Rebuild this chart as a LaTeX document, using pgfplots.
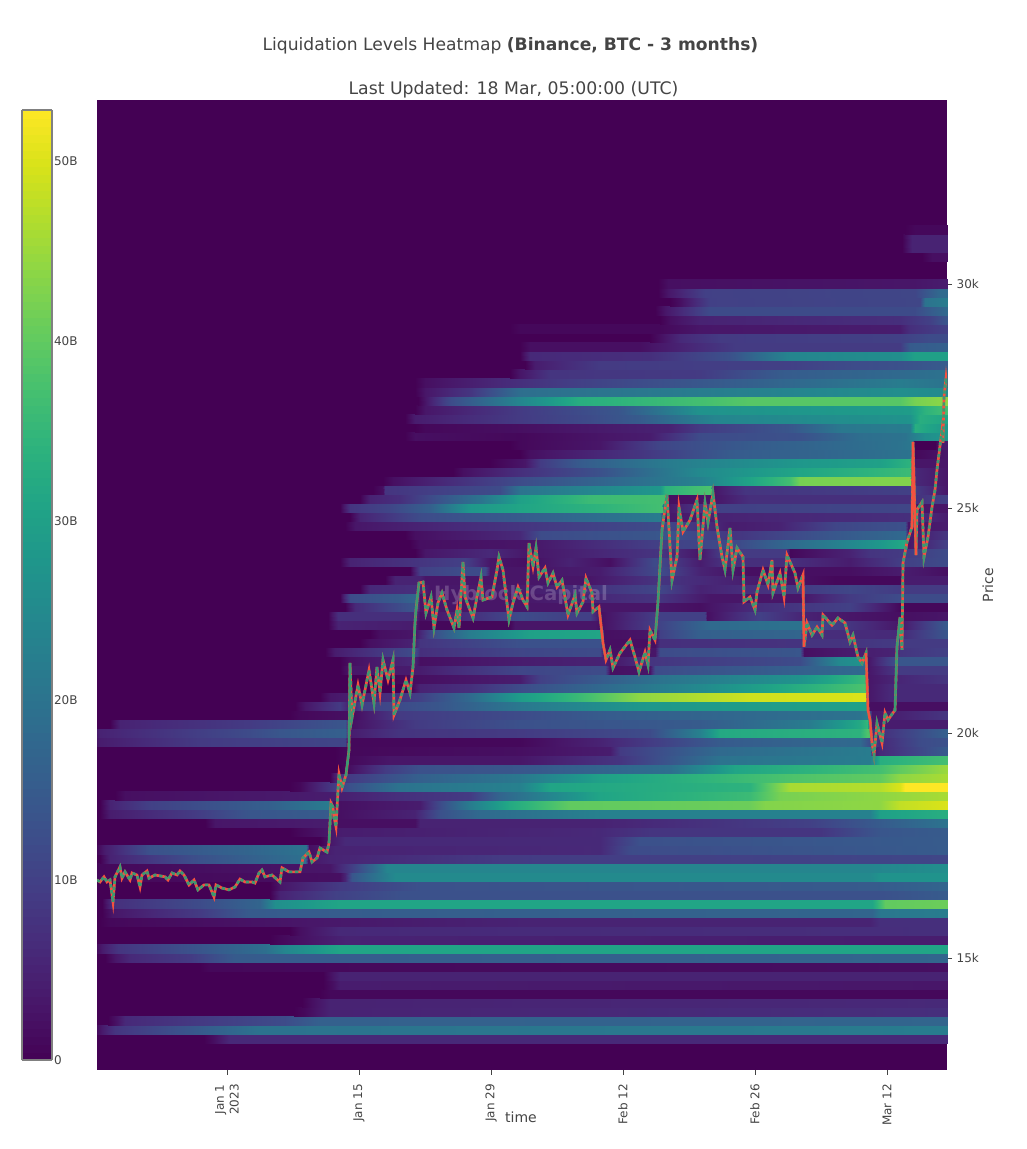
\documentclass[border=0pt]{standalone}
\usepackage{fontspec}
\setmainfont{DejaVu Sans}
\usepackage{pgfplots}
\usepackage{pgfplotstable}
\pgfplotsset{compat=1.18}
\definecolor{txt}{HTML}{444444}
\definecolor{up}{HTML}{3D9970}
\definecolor{down}{HTML}{F4523F}
\def\px{0.75pt}

% one price band of the heatmap: lower edge, then position/value knots (value in billions)
\newcommand{\band}[2]{%
  \gdef\bandcoords{}%
  \foreach \x/\z in {#2}{%
    \ifx\bandcoords\empty
      \pgfmathsetmacro\xa{\x-10}%
      \xdef\bandcoords{(\xa,#1)[0] (\xa,\the\numexpr#1+200\relax)[0]}%
    \fi
    \xdef\bandcoords{\bandcoords (\x,#1)[\z] (\x,\the\numexpr#1+200\relax)[\z]}}%
  \edef\doband{\noexpand\addplot[surf,shader=interp,mesh/rows=2,mesh/ordering=y varies,point meta=explicit,forget plot] coordinates {\bandcoords};}%
  \doband}

% candles, x is the position along the time axis
\pgfplotstableread{
x p
97 16730
100 16685
104 16800
107 16685
110 16730
113 16240
115 16800
120 17020
122 16770
125 16910
130 16730
132 16885
137 16840
140 16575
142 16840
147 16930
149 16770
155 16840
165 16800
168 16730
172 16885
177 16840
180 16930
184 16840
189 16620
194 16730
198 16510
204 16620
209 16620
212 16460
214 16350
216 16620
222 16550
229 16510
235 16575
240 16750
245 16685
252 16685
255 16660
259 16885
262 16950
265 16800
272 16840
280 16685
282 17000
289 16910
300 16910
303 17220
309 17350
312 17130
317 17220
320 17440
327 17350
329 17550
331 18440
333 18350
334 18130
336 17910
338 18730
339 19090
342 18780
346 19070
349 19620
350 21560
352 20340
358 21070
362 20625
369 21400
374 20670
377 21470
380 20890
383 21630
388 21180
393 21630
394 20400
400 20740
406 21180
410 20890
413 21470
415 22450
416 22740
419 23340
423 23360
426 22670
431 23030
434 22340
438 22900
442 23120
447 22740
454 22340
457 22740
459 22340
463 23810
465 23030
473 22560
477 23030
481 23470
483 22960
492 23030
497 23630
499 23920
503 23630
509 22520
513 22900
518 23250
523 22960
527 22810
529 24230
533 23700
536 24120
539 23470
545 23675
548 23340
553 23560
557 23250
562 23400
568 22630
575 23070
577 22670
583 22920
586 23450
592 23120
593 22700
599 22810
603 22000
606 21630
610 21850
613 21450
620 21780
630 22070
635 21690
639 21360
645 21800
648 21515
650 22290
655 22070
658 22920
662 24520
667 25300
672 23400
677 23920
679 25030
683 24480
690 24740
697 25190
700 23850
705 25120
708 24680
713 25340
717 24590
722 23920
725 23630
730 24565
733 23630
737 24120
743 23920
744 22920
750 23030
755 22740
757 23140
763 23630
768 23300
772 23850
773 23120
780 23560
784 23030
787 23960
795 23560
798 23230
803 23520
804 21920
807 22450
812 22180
817 22360
822 22180
823 22630
832 22400
838 22560
845 22450
850 22030
853 22180
858 21690
862 21560
866 21780
868 20510
870 20290
872 19780
874 19510
877 20220
882 19780
885 20450
888 20290
893 20450
895 20510
897 21920
900 22580
902 21850
903 23790
907 24250
912 24590
913 26480
916 23960
917 24970
922 25140
924 23920
928 24365
932 25030
935 25410
937 25860
942 26750
943 26460
944 27480
946 27900
947 27700
}\candles

\begin{document}
\begin{tikzpicture}
\useasboundingbox (0,0) rectangle (1027*\px,1149*\px);
\begin{axis}[
    at={(97*\px,79*\px)}, anchor=south west,
    scale only axis, width=850*\px, height=970*\px,
    xmin=97, xmax=947, ymin=12500, ymax=34090,
    scaled ticks=false,
    axis background/.style={fill={rgb,255:red,68;green,1;blue,84}},
    colormap/viridis, point meta min=0, point meta max=52.84,
    xtick={227,359,491,623,755,887},
    xticklabels={{Jan 1\\2023},Jan 15,Jan 29,Feb 12,Feb 26,Mar 12},
    xticklabel style={rotate=90,anchor=east,align=center,xshift=-4.5*\px,font=\fontsize{9}{11}\selectfont,text=txt},
    ytick={15000,20000,25000,30000},
    yticklabels={15k,20k,25k,30k},
    yticklabel pos=right,
    yticklabel style={font=\fontsize{9}{11}\selectfont,text=txt},
    xtick pos=bottom, ytick pos=right,
    tick align=outside, major tick length=5*\px,
    tick style={draw=txt},
    axis line style={draw=none},
    xlabel={time}, ylabel={Price},
    xlabel style={at={(0.4988,-0.0485)},anchor=center,font=\fontsize{10.5}{12}\selectfont,text=txt},
    ylabel style={at={(1.048,0.5)},anchor=center,rotate=0,font=\fontsize{10.5}{12}\selectfont,text=txt},
    colorbar sampled,
    colorbar style={
      samples=120,
      at={(-0.0882,0.0103)}, anchor=south west,
      width=30*\px, height=950*\px,
      ytick={0,10,20,30,40,50},
      yticklabels={0,10B,20B,30B,40B,50B},
      yticklabel pos=right,
      yticklabel style={font=\fontsize{9}{11}\selectfont,text=txt,xshift=-2pt},
      major tick length=0pt,
      axis line style={draw=gray,line width=1.5pt},
    },
  ]
\band{13100}{214/2,230/6,947/6}
\band{13300}{103/4,115/8,190/14,260/20,947/22}
\band{13500}{118/3,125/6,285/12,320/16,947/17}
\band{13700}{304/1,330/5,947/7}
\band{13900}{312/2,330/5,947/6}
\band{14100}{330/1,947/1}
\band{14300}{333/2,340/4,947/3}
\band{14500}{333/3,340/5,947/5}
\band{14700}{210/1,947/2}
\band{14900}{115/3,130/6,190/9,235/15,947/17}
\band{15100}{103/4,118/8,190/13,265/19,285/24,340/31,947/31}
\band{15300}{280/1,345/5,947/4}
\band{15500}{300/2,340/6,947/7}
\band{15700}{110/1,300/3,520/5,870/5,880/7,947/7}
\band{15900}{112/3,200/9,250/15,520/16,872/17,880/21,947/22}
\band{16100}{112/7,200/12,260/17,275/26,340/31,872/31,885/40,947/41}
\band{16300}{280/5,335/10,400/13,880/13,947/15}
\band{16500}{280/3,340/9,420/13,880/15,947/17}
\band{16700}{97/1,340/2,345/5,352/14,395/25,870/25,880/27,947/27}
\band{16900}{100/1,330/3,350/9,375/18,387/24,870/24,947/26}
\band{17100}{110/5,200/13,300/19,305/19,308/3,330/5,500/9,947/11}
\band{17300}{105/4,150/13,250/17,306/20,309/2,335/5,600/6,630/12,947/15}
\band{17500}{330/3,345/6,600/6,640/13,947/15}
\band{17700}{300/1,340/4,600/6,650/8,820/8,880/14,947/15}
\band{17900}{215/3,330/4,338/2,415/2,420/5,600/5,810/10,880/15,947/20}
\band{18100}{110/4,195/9,250/14,332/15,336/2,415/5,440/13,480/18,600/23,870/23,880/30,947/33}
\band{18300}{110/5,150/10,270/16,330/22,333/2,420/4,440/12,470/22,510/32,570/40,750/41,765/43,880/44,900/48,947/50}
\band{18500}{125/2,330/4,400/7,470/9,500/17,600/31,750/36,780/42,880/44,947/46}
\band{18700}{300/1,350/13,400/20,520/23,550/31,750/34,790/46,880/47,900/50,905/52.8,947/52.8}
\band{18900}{340/8,420/16,520/21,600/30,790/38,880/40,900/44,947/46}
\band{19100}{350/2,385/9,420/13,520/14,670/19,735/31,880/37,900/40,947/45}
\band{19300}{345/1,390/3,520/3,620/8,720/20,870/22,880/33,947/37}
\band{19500}{345/1,520/2,610/4,620/9,720/18,870/22,872/3,880/6,925/12,947/15}
\band{19700}{100/4,200/9,345/11,348/1,520/1,600/5,660/10,720/15,860/18,880/6,920/12,947/13}
\band{19900}{100/5,250/12,280/14,345/16,350/4,400/8,520/9,650/12,700/23,720/32,860/34,867/38,870/38,872/6,925/13,947/16}
\band{20100}{120/5,250/9,345/14,350/2,415/9,520/13,700/15,810/22,860/32,867/35,872/4,947/4}
\band{20300}{300/1,345/2,355/2,400/9,520/12,600/15,860/20,867/22,872/3,947/8}
\band{20500}{305/3,340/9,350/4,360/10,440/14,520/21,640/28,866/30,868/2,947/2}
\band{20700}{330/3,390/7,420/10,470/18,520/29,580/36,640/44,750/49,866/50,868/3,890/6,947/6}
\band{20900}{420/5,470/7,520/12,700/25,800/33,866/38,868/3,890/6,947/6}
\band{21100}{400/1,420/2,520/4,540/10,660/20,800/27,866/36,868/3,890/5,947/8}
\band{21300}{350/3,420/4,460/7,520/11,605/12,610/2,650/3,655/12,800/16,866/18,868/3,900/9,947/9}
\band{21500}{350/2,413/6,420/2,520/4,605/5,610/3,650/8,800/12,840/25,862/27,868/3,900/14,947/14}
\band{21700}{335/4,415/12,420/7,520/11,600/12,604/2,655/3,660/12,800/14,804/2,853/4,897/5,900/8,947/10}
\band{21900}{370/2,415/5,420/8,520/13,600/13,604/2,655/2,660/7,850/8,900/9,947/9}
\band{22100}{380/2,415/3,432/12,470/22,530/30,600/31,604/2,655/3,660/10,700/16,800/17,803/7,900/6,947/14}
\band{22300}{338/5,415/4,420/1,510/1,515/3,595/3,600/2,650/9,710/18,803/20,806/12,850/8,900/3,947/15}
\band{22500}{338/7,415/7,420/2,520/12,570/10,590/10,600/2,660/10,705/10,707/2,760/10,805/5,850/3,900/2,947/3}
\band{22700}{355/6,400/12,415/14,420/3,520/3,660/3,700/2,760/7,850/10,900/1,947/1}
\band{22900}{350/12,400/15,415/17,420/3,520/3,660/8,710/3,800/3,850/9,900/12,947/12}
\band{23100}{370/6,415/7,430/3,530/4,660/11,700/5,850/11,900/9,947/9}
\band{23300}{395/5,420/5,425/3,590/3,660/8,750/4,835/1,900/1,905/4,947/4}
\band{23500}{420/10,460/12,485/12,490/3,530/3,600/4,660/12,700/5,750/2,850/2,905/4,947/2}
\band{23700}{350/5,420/8,465/10,490/3,530/2,570/5,610/2,655/12,700/4,720/7,790/7,850/4,905/10,947/12}
\band{23900}{425/3,490/6,530/3,660/8,700/3,720/9,785/9,790/1,850/5,870/8,905/9,947/12}
\band{24100}{420/2,530/3,660/10,740/12,790/18,830/22,880/28,905/32,908/3,947/10}
\band{24300}{415/2,520/6,540/12,660/14,735/8,830/14,905/18,908/3,947/8}
\band{24500}{355/3,450/6,520/8,660/12,730/4,780/5,835/11,905/13,908/3,947/4}
\band{24700}{360/5,420/12,520/15,660/22,664/3,720/5,910/7,947/4}
\band{24900}{350/8,390/11,430/16,470/28,520/31,570/33,662/37,664/3,715/10,910/11,914/3,947/3}
\band{25100}{370/5,400/7,480/20,520/30,590/36,666/37,668/2,715/3,750/7,910/7,947/10}
\band{25300}{383/2,385/8,500/12,520/20,660/28,665/34,711/38,713/3,745/8,910/10,947/3}
\band{25500}{393/2,520/12,700/23,790/37,800/42,910/43,914/6,947/3}
\band{25700}{463/2,520/7,600/13,700/25,800/31,910/36,914/6,947/3}
\band{25900}{500/1,525/3,540/9,580/15,670/22,800/28,880/30,910/34,914/3,947/3}
\band{26100}{530/2,640/8,730/15,820/17,910/20,914/1,947/3}
\band{26300}{520/1,600/3,660/11,750/15,900/20,912/21,914/0,935/0,940/4,947/4}
\band{26500}{415/2,520/1,650/4,700/12,800/13,860/19,905/20,925/26,947/28}
\band{26700}{425/1,520/2,670/5,700/9,790/14,840/21,910/22,915/33,947/28}
\band{26900}{415/4,520/9,590/12,640/15,715/24,910/27,920/33,947/31}
\band{27100}{425/3,520/9,620/14,700/27,910/29,925/34,947/37}
\band{27300}{428/4,450/12,520/24,580/33,700/37,750/39,900/39,915/42,947/44}
\band{27500}{425/3,470/8,520/19,750/23,900/26,947/25}
\band{27700}{425/2,520/7,580/10,750/16,900/22,947/20}
\band{27900}{520/3,550/8,700/9,780/15,900/18,947/20}
\band{28100}{535/4,600/9,790/10,850/12,900/13,947/15}
\band{28300}{530/6,650/7,730/13,790/24,900/26,915/30,947/30}
\band{28500}{530/2,640/2,735/9,900/9,910/15,947/16}
\band{28700}{660/2,680/6,720/9,900/10,930/12,947/12}
\band{28900}{520/1,660/1,700/3,900/4,910/7,947/10}
\band{29100}{670/2,700/5,900/7,930/10,947/14}
\band{29300}{665/3,710/12,915/12,930/15,947/18}
\band{29500}{680/2,710/10,920/11,925/20,947/22}
\band{29700}{668/3,705/10,915/11,940/18,947/18}
\band{29900}{668/2,915/3,947/4}
\band{30500}{932/2,947/2}
\band{30700}{912/5,947/5}
\band{30900}{912/5,947/5}
\band{31100}{915/1,947/1}
% watermark
\node[text=white,opacity=0.2,font=\bfseries\fontsize{14.8}{18}\selectfont] at (axis cs:521,23070) {Hyblock Capital};
% price: red under dashed green, the long moves on top
\addplot[down,line width=2pt,forget plot] table[x=x,y=p] {\candles};
\addplot[up,line width=2pt,dash pattern=on 2.5pt off 2pt,forget plot] table[x=x,y=p] {\candles};
\addplot[up,line width=1.6pt,forget plot] coordinates {(329,17550) (331,18440)};
\addplot[up,line width=1.6pt,forget plot] coordinates {(346,19070) (349,19620) (350,21560)};
\addplot[up,line width=1.6pt,forget plot] coordinates {(413,21470) (415,22450) (416,22740) (419,23340)};
\addplot[up,line width=1.6pt,forget plot] coordinates {(655,22070) (658,22920) (662,24520)};
\addplot[up,line width=1.6pt,forget plot] coordinates {(895,20510) (897,21920) (900,22580)};
\addplot[down,line width=1.6pt,forget plot] coordinates {(803,23520) (804,21920)};
\addplot[down,line width=1.6pt,forget plot] coordinates {(866,21780) (868,20510) (870,20290) (872,19780)};
\addplot[down,line width=1.6pt,forget plot] coordinates {(599,22810) (603,22000) (606,21630)};
\addplot[down,line width=1.6pt,forget plot] coordinates {(912,24590) (913,26480) (916,23960)};
\end{axis}
\node[text=txt,font=\fontsize{12.85}{15}\selectfont] at (510.5*\px,1103.5*\px) {Liquidation Levels Heatmap {\bfseries (Binance, BTC - 3 months)}};
\node[text=txt,font=\fontsize{12.95}{15}\selectfont] at (513.5*\px,1059.5*\px) {Last Updated: 18 Mar, 05:00:00 (UTC)};
\end{tikzpicture}
\end{document}
